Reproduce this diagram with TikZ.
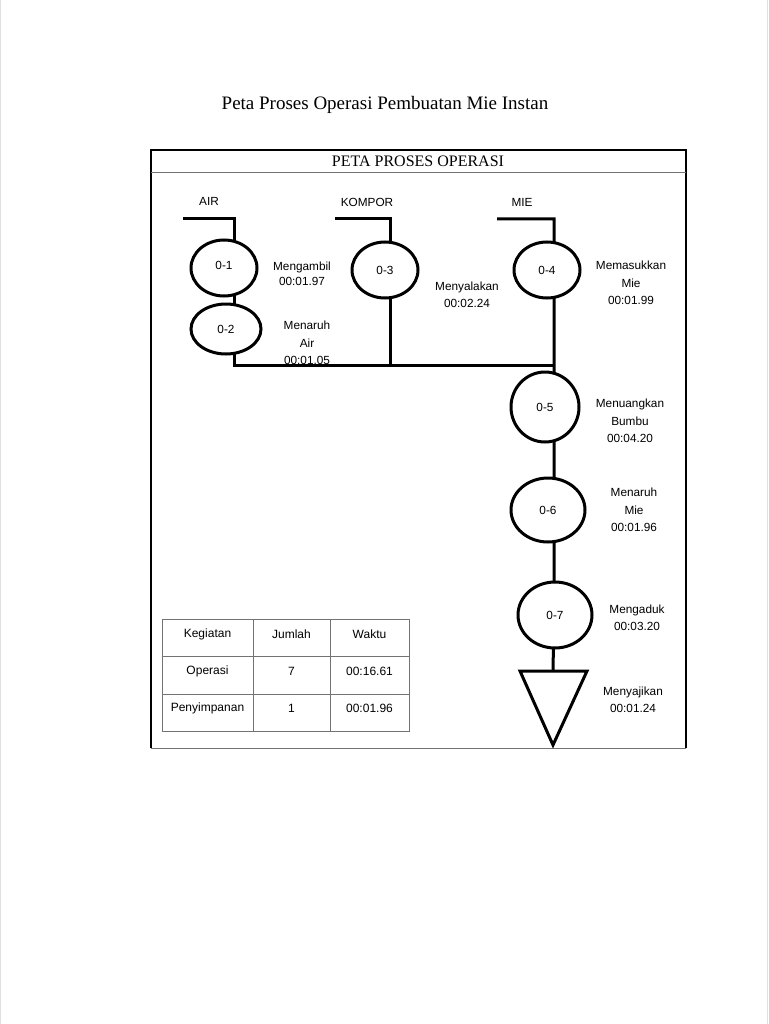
\documentclass[tikz,border=0pt]{standalone}
\usepackage{fontspec}
\setmainfont{Liberation Serif}
\setsansfont{Liberation Sans}
\usetikzlibrary{backgrounds, shapes.geometric}

\begin{document}
\begin{tikzpicture}[x=1pt, y=-1pt,
        opr/.style={ellipse, draw=black, line width=3pt, fill=white, inner sep=0pt,
            font=\sffamily\fontsize{11.8}{14}\selectfont},
        flow/.style={line width=3pt, line join=miter},
        lbl/.style={align=center, inner sep=0pt, font=\sffamily\fontsize{11.8}{17.5}\selectfont},
        cell/.style={inner sep=0pt, font=\sffamily\fontsize{12}{14}\selectfont},
        rule/.style={draw=black!55, line width=0.9pt}]
        \useasboundingbox (0,0) rectangle (768,1024);
        \draw[draw=black!12, line width=1pt] (0.5,0) -- (0.5,1024) (767.5,0) -- (767.5,1024);
        \node (title) at (385,105) {\fontsize{19}{22}\selectfont Peta Proses Operasi Pembuatan Mie Instan};
        \coordinate (fnw) at (151,150);
        \coordinate (fne) at (686,150);
        \coordinate (fsw) at (151,748);
        \coordinate (fse) at (686,748);
        \draw[line width=1.8pt] (fsw) -- (fnw) -- (fne) -- (fse);
        \draw[rule] (fsw) -- (fse);
        \draw[rule] (151,172.5) -- (686,172.5);
        \node (head) at (418,161) {\fontsize{16}{18}\selectfont PETA PROSES OPERASI};
        \node (air) [lbl] at (209,201) {AIR};
        \node (kompor) [lbl] at (367,202) {KOMPOR};
        \node (mie) [lbl] at (522,202) {MIE};
        \node (o1) [opr, minimum width=66pt, minimum height=56pt] at (224,268) {\raisebox{5pt}{0-1}};
        \node (o2) [opr, minimum width=70pt, minimum height=50pt] at (226,329) {0-2};
        \node (o3) [opr, minimum width=66pt, minimum height=56pt] at (385,270) {0-3};
        \node (o4) [opr, minimum width=66pt, minimum height=56pt] at (547,270) {0-4};
        \node (o5) [opr, minimum width=68pt, minimum height=70pt] at (545,407) {0-5};
        \node (o6) [opr, minimum width=74pt, minimum height=64pt] at (548,510) {0-6};
        \node (o7) [opr, minimum width=74pt, minimum height=66pt] at (555,615) {0-7};
        \coordinate (a0) at (183,219);
        \coordinate (a1) at (234,219);
        \coordinate (k0) at (335,219);
        \coordinate (k1) at (390,219);
        \coordinate (m0) at (497,219);
        \coordinate (m1) at (554,219);
        \coordinate (join) at (554,365);
        \coordinate (tl) at (520,671);
        \coordinate (tr) at (587,671);
        \coordinate (tip) at (553,745);
        \coordinate (ttop) at (553,671);
        \begin{scope}[on background layer]
            \draw[flow] (a0) -- (a1) -- (a1 |- o1) -- (a1 |- o2) -- (a1 |- join) -- (join);
            \draw[flow] (k0) -- (k1) -- (k1 |- o3) -- (k1 |- join);
            \draw[flow] (m0) -- (m1) -- (m1 |- o4) -- (join) -- (join |- o5) -- (join |- o6)
                -- (join |- o7) -- (ttop);
        \end{scope}
        \draw[line width=3pt, line join=miter, fill=white] (tl) -- (tr) -- (tip) -- cycle;
        \node (t1) [lbl] at (302,274) {Mengambil\\[-3pt]00:01.97};
        \node (t2) [lbl] at (307,343) {Menaruh\\Air\\00:01.05};
        \node (t3) [lbl] at (467,295) {Menyalakan\\00:02.24};
        \node (t4) [lbl] at (631,283) {Memasukkan\\Mie\\00:01.99};
        \node (t5) [lbl] at (630,421) {Menuangkan\\Bumbu\\00:04.20};
        \node (t6) [lbl] at (634,510) {Menaruh\\Mie\\00:01.96};
        \node (t7) [lbl] at (637,618) {Mengaduk\\00:03.20};
        \node (t8) [lbl] at (633,700) {Menyajikan\\00:01.24};
        \draw[rule] (162,619) rectangle (409,731);
        \foreach \cx in {253,330} \draw[rule] (\cx,619) -- (\cx,731);
        \foreach \ry in {656,694} \draw[rule] (162,\ry) -- (409,\ry);
        \foreach \ry/\ka/\kb/\kc [count=\r] in {634/Kegiatan/Jumlah/Waktu, 671/Operasi/7/00:16.61,
            708/Penyimpanan/1/00:01.96} {
            \node (k\r a) [cell] at (207.5,\ry) {\ka};
            \node (k\r b) [cell] at (291.5,\ry) {\kb};
            \node (k\r c) [cell] at (369.5,\ry) {\kc};
        }
\end{tikzpicture}
\end{document}
